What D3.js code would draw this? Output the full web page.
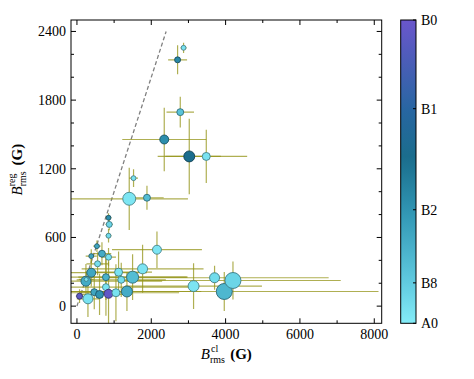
<!DOCTYPE html>
<html><head><meta charset="utf-8">
<script src="https://cdn.jsdelivr.net/npm/d3@7"></script>
<style>body{margin:0;background:#fff}svg{display:block}</style>
</head><body>
<svg id="c" width="474" height="379"></svg>
<script>
// ---- data ----
const bCl    = [2869,2708,2780,2349,3022,3480,1523,1407,1884,850,869,850,538,673,850,385,555,2153,385,242,250,780,1120,1192,1497,1766,780,70,296,466,608,850,1049,1345,3138,3703,3964,4198];
const bReg   = [2257,2152,1695,1456,1308,1308,1118,938,947,772,714,615,524,458,428,437,370,493,292,218,233,253,297,230,253,326,166,87,64,122,102,108,117,128,175,248,128,224];
const bClErr = [80,255,370,1130,850,1100,120,1580,450,80,100,80,100,250,200,150,300,1210,1500,2050,200,2200,900,1200,1460,1640,2500,100,300,400,600,300,1700,2000,1840,3070,4150,2900];
const bRegErr= [45,127,134,277,330,233,78,272,105,40,50,60,50,100,80,60,100,160,120,150,60,200,180,150,200,210,250,60,160,150,180,280,250,170,200,105,170,165];
const teff   = [10500,18000,13000,17500,20500,10500,10500,10200,13500,17500,11500,11000,15500,15000,10500,15500,10800,10300,15500,15000,10500,14500,10500,10800,13500,10300,10500,28000,10500,15500,17000,28500,10500,15000,10300,11000,14000,11500];
const sizeVal= [6,9,12,20,30,16,6,42,12,6,9,6,6,12,9,6,9,20,20,25,4,12,16,12,36,25,12,9,25,12,16,20,16,30,30,25,64,64];
const xTicks = [0,2000,4000,6000,8000];
const yTicks = [0,600,1200,1800,2400];
const spTypes = ["A0","B8","B2","B1","B0"];
const spTeff  = [9700,12300,17000,23500,29200];
const oneToOne = [0,2400];

// ---- layout ----
const svg = d3.select("#c");
const L=71,R=381.7,T=20,B=323.3;
const x = d3.scaleLinear().domain([-160,8200]).range([L,R]);
const y = d3.scaleLinear().domain([-150,2500]).range([B,T]);
const rS = d3.scaleSqrt().domain([0,64]).range([0,8]);
const cStops = [9700,12300,17000,20300,23500,29200];
const cCols  = ["#84ecf8","#60cbe0","#2f94b2","#1a6d8c","#2866a2","#6a56cc"];
const col = d3.scaleLinear().domain(cStops).range(cCols).interpolate(d3.interpolateRgb).clamp(true);
const font = "Liberation Serif, DejaVu Serif, serif";

svg.append("clipPath").attr("id","clip").append("rect").attr("x",L).attr("y",T).attr("width",R-L).attr("height",B-T);
const g = svg.append("g").attr("clip-path","url(#clip)");

// one-to-one line
g.append("line").attr("x1",x(oneToOne[0])).attr("y1",y(oneToOne[0])).attr("x2",x(oneToOne[1])).attr("y2",y(oneToOne[1]))
 .attr("stroke","#808080").attr("stroke-width",1.3).attr("stroke-dasharray","4,2.5");

const idx = d3.range(bCl.length);
// error bars
const eb = g.append("g").attr("stroke","#949418").attr("stroke-opacity",0.75).attr("stroke-width",1.2);
idx.forEach(i=>{
  eb.append("line").attr("x1",x(bCl[i]-bClErr[i])).attr("x2",x(bCl[i]+bClErr[i])).attr("y1",y(bReg[i])).attr("y2",y(bReg[i]));
  eb.append("line").attr("x1",x(bCl[i])).attr("x2",x(bCl[i])).attr("y1",y(bReg[i]-bRegErr[i])).attr("y2",y(bReg[i]+bRegErr[i]));
});
// markers
g.append("g").selectAll("circle").data(idx).join("circle")
 .attr("cx",i=>x(bCl[i])).attr("cy",i=>y(bReg[i])).attr("r",i=>rS(sizeVal[i]))
 .attr("fill",i=>col(teff[i])).attr("stroke",i=>d3.color(col(teff[i])).darker(1.6)).attr("stroke-width",0.9);

// frame
svg.append("rect").attr("x",L).attr("y",T).attr("width",R-L).attr("height",B-T).attr("fill","none").attr("stroke","#000").attr("stroke-width",1);

// ticks (inward, all sides)
const tk = svg.append("g").attr("stroke","#000").attr("stroke-width",1);
const xMinor = d3.range(0,8201,1000), yMinor = d3.range(0,2501,200);
xMinor.forEach(v=>{const M=xTicks.includes(v),l=M?5:3;
  tk.append("line").attr("x1",x(v)).attr("x2",x(v)).attr("y1",B).attr("y2",B-l);
  tk.append("line").attr("x1",x(v)).attr("x2",x(v)).attr("y1",T).attr("y2",T+l);});
yMinor.forEach(v=>{const M=yTicks.includes(v),l=M?5:3;
  tk.append("line").attr("y1",y(v)).attr("y2",y(v)).attr("x1",L).attr("x2",L+l);
  tk.append("line").attr("y1",y(v)).attr("y2",y(v)).attr("x1",R).attr("x2",R-l);});

const lab = svg.append("g").attr("font-family",font).attr("font-size",14).attr("fill","#000");
xTicks.forEach(v=>lab.append("text").attr("x",x(v)).attr("y",B+16).attr("text-anchor","middle").text(v));
yTicks.forEach(v=>lab.append("text").attr("x",L-5).attr("y",y(v)+5).attr("text-anchor","end").text(v));

// axis labels
const xl = lab.append("text").attr("x",(L+R)/2).attr("y",B+36).attr("text-anchor","middle").attr("font-size",15);
xl.append("tspan").attr("font-style","italic").text("B");
xl.append("tspan").attr("font-size",10).attr("dy",4).attr("dx",0).text("rms");
xl.append("tspan").attr("font-size",10).attr("dy",-11).attr("dx",-14).text("cl");
xl.append("tspan").attr("dy",7).attr("dx",12).attr("font-weight","bold").text("(G)");

const yl = lab.append("text").attr("transform",`translate(22,${(T+B)/2-2}) rotate(-90)`).attr("text-anchor","middle").attr("font-size",15);
yl.append("tspan").attr("font-style","italic").text("B");
yl.append("tspan").attr("font-size",10).attr("dy",4).text("rms");
yl.append("tspan").attr("font-size",10).attr("dy",-11).attr("dx",-15).text("reg");
yl.append("tspan").attr("dy",7).attr("dx",8).attr("font-weight","bold").text("(G)");

// colorbar
const cbX=400.7, cbW=15.3, cbT=20, cbB=323.3;
const cy = d3.scaleLinear().domain([spTeff[0],spTeff[spTeff.length-1]]).range([cbB,cbT]);
const grad = svg.append("defs").append("linearGradient").attr("id","gr").attr("x1",0).attr("y1",1).attr("x2",0).attr("y2",0);
d3.range(0,1.0001,0.05).forEach(f=>{const t=spTeff[0]+f*(spTeff[4]-spTeff[0]);
  grad.append("stop").attr("offset",f).attr("stop-color",col(t));});
svg.append("rect").attr("x",cbX).attr("y",cbT).attr("width",cbW).attr("height",cbB-cbT).attr("fill","url(#gr)").attr("stroke","#000").attr("stroke-width",1);
spTypes.forEach((s,i)=>{
  svg.append("line").attr("x1",cbX+cbW-3).attr("x2",cbX+cbW).attr("y1",cy(spTeff[i])).attr("y2",cy(spTeff[i])).attr("stroke","#000");
  lab.append("text").attr("x",cbX+cbW+5).attr("y",cy(spTeff[i])+5).text(s);
});
</script>
</body></html>
